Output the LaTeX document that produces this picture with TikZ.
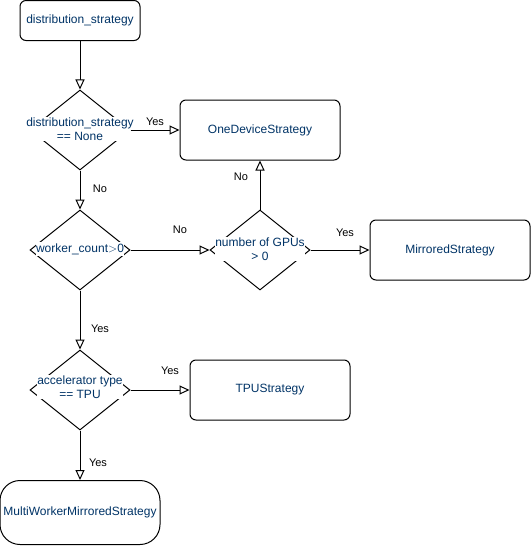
\documentclass[tikz,border=0pt]{standalone}
\usepackage{fontspec}
\setmainfont{Liberation Sans}
\usetikzlibrary{shapes.geometric,arrows.meta}
\definecolor{txtblue}{RGB}{0,51,102}
\tikzset{
  box/.style={draw=black, line width=1pt, rounded corners=6pt, minimum width=160pt, minimum height=60pt, inner sep=0pt, text=txtblue, font=\fontsize{12}{14}\selectfont},
  dec/.style={draw=black, line width=1pt, shape=diamond, minimum width=100pt, minimum height=80pt, inner sep=0pt},
  dectext/.style={text=txtblue, fill=white, align=center, font=\fontsize{12}{14}\selectfont, inner xsep=0.5pt, inner ysep=1pt},
  conn/.style={draw=black, line width=1pt, -{Triangle[open, length=10pt, width=9pt, fill=white]}},
  lbl/.style={font=\fontsize{11}{13}\selectfont, text=black, inner sep=0pt}
}
\begin{document}
\begin{tikzpicture}[x=1pt, y=-1pt]
\useasboundingbox (0,0) rectangle (531,546);
% nodes
\node[box, minimum width=120pt, minimum height=40pt] (start) at (80,20.5) {distribution\_strategy};
\node[dec] (d1) at (80,130) {};
\node[dectext] (d1t) at (80,129) {distribution\_strategy\\== None};
\node[box] (one) at (260,130) {OneDeviceStrategy};
\node[dec] (d2) at (80,250) {};
\node[dectext] (d2t) at (80,249) {worker\_count$>$0};
\node[dec] (d3) at (260,250) {};
\node[dectext] (d3t) at (260,249) {number of GPUs\\> 0};
\node[box] (mir) at (450,250) {MirroredStrategy};
\node[dec] (d4) at (80,390) {};
\node[dectext] (d4t) at (80,387) {accelerator type\\== TPU};
\node[box] (tpu) at (270,390) {TPUStrategy};
\node[box, rounded corners=20pt, minimum height=64pt] (multi) at (80,512.5) {MultiWorkerMirroredStrategy};
% connectors
\draw[conn] (start) -- (d1);
\draw[conn] (d1.east) -- node[lbl, pos=0.5, above=4pt] {Yes} (one.west);
\draw[conn] (d1.south) -- (d2.north);
\draw[conn] (d2.east) -- (d3.west);
\draw[conn] (d3.north) -- (one.south);
\draw[conn] (d3.east) -- (mir.west);
\draw[conn] (d2.south) -- (d4.north);
\draw[conn] (d4.east) -- (tpu.west);
\draw[conn] (d4.south) -- (multi.north);
% labels
\node[lbl] at (100,189) {No};
\node[lbl] at (180,230) {No};
\node[lbl] at (241,177) {No};
\node[lbl] at (345,233) {Yes};
\node[lbl] at (100,329) {Yes};
\node[lbl] at (170,371) {Yes};
\node[lbl] at (98,463) {Yes};
\end{tikzpicture}
\end{document}
